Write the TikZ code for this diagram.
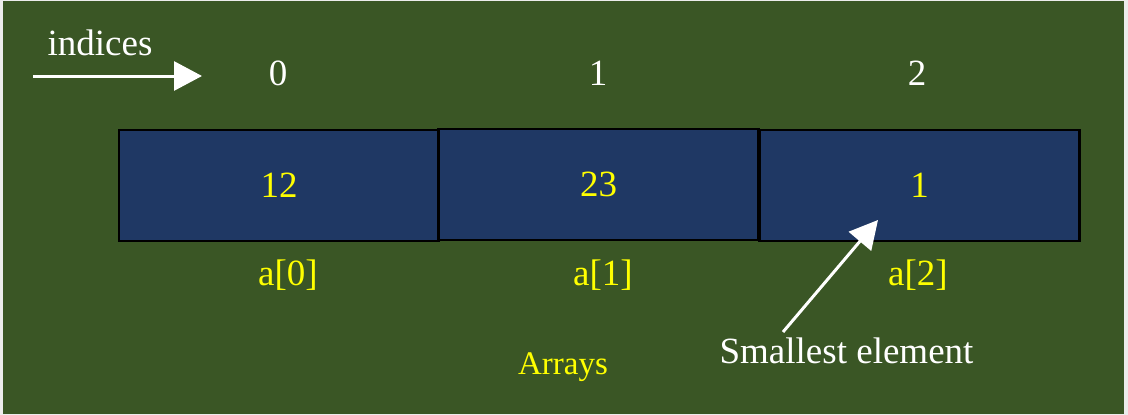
\documentclass[tikz,border=0pt]{standalone}
\usepackage{fontspec}
\setmainfont{Liberation Serif}
\usetikzlibrary{arrows.meta}
\definecolor{bggreen}{RGB}{58,86,37}
\definecolor{cellblue}{RGB}{31,56,100}
\definecolor{txtyellow}{RGB}{255,255,0}
\tikzset{
  cell/.style={draw=black, line width=2.5pt, fill=cellblue, rectangle, inner sep=0pt,
    minimum width=320pt, minimum height=111pt, text=txtyellow, font=\fontsize{37}{44}\selectfont},
  whitetxt/.style={anchor=base, inner sep=0pt, text=white, font=\fontsize{37}{44}\selectfont},
  yellowtxt/.style={anchor=base, inner sep=0pt, text=txtyellow, font=\fontsize{37}{44}\selectfont},
  pointer/.style={draw=white, line width=3pt, -{Triangle[length=28pt,width=29pt]}}
}
\begin{document}
\begin{tikzpicture}[x=1pt,y=-1pt]
\useasboundingbox (0,0) rectangle (1128,415);
\fill[white!85!gray] (0,0) rectangle (1128,415);
\fill[bggreen] (3,1) rectangle (1124,414);
% cells
\node[cell] (b0) at (279,185.5) {12};
\node[cell] (b1) at (598.5,184.5) {23};
\node[cell] (b2) at (919.5,185.5) {1};
% indices
\node[whitetxt] (ind) at (100,55) {indices};
\node[whitetxt] (i0) at (278,85) {0};
\node[whitetxt] (i1) at (598,85) {1};
\node[whitetxt] (i2) at (917,85) {2};
\coordinate (is) at (33,76);
\coordinate (ie) at (202,76);
\draw[pointer] (is) -- (ie);
% labels
\node[yellowtxt] (l0) at (288,285) {a[0]};
\node[yellowtxt] (l1) at (603,285) {a[1]};
\node[yellowtxt] (l2) at (918,285) {a[2]};
\node[yellowtxt, font=\fontsize{33}{40}\selectfont] (arr) at (563,374) {Arrays};
\node[whitetxt] (small) at (846.5,363) {Smallest element};
\coordinate (ss) at (783,332);
\coordinate (st) at (878,220);
\draw[pointer] (ss) -- (st);
\end{tikzpicture}
\end{document}
